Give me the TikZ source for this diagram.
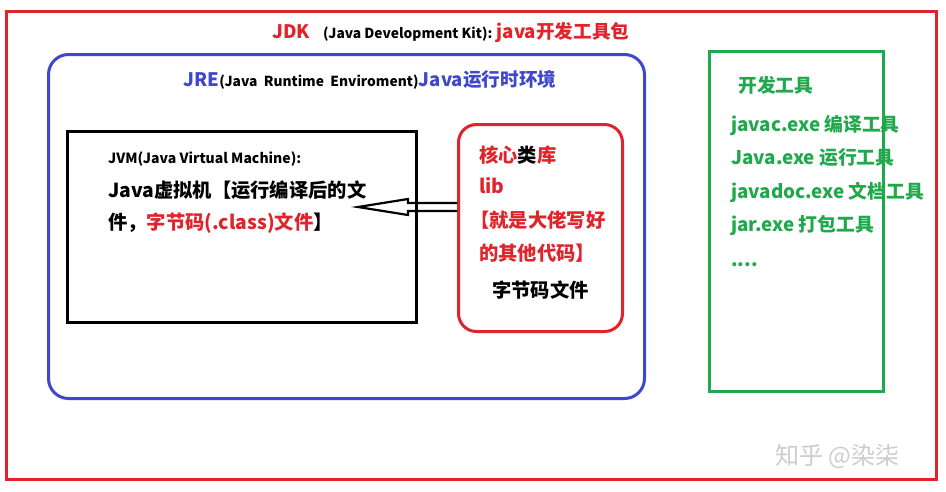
\documentclass[tikz,border=0pt]{standalone}
\usepackage{fontspec}
\setmainfont{Noto Sans CJK SC}
\begin{document}
\definecolor{jred}{RGB}{224,36,44}
\definecolor{jblue}{RGB}{63,72,204}
\definecolor{jgreen}{RGB}{34,168,76}
\definecolor{wm}{RGB}{205,205,205}
\begin{tikzpicture}[x=1pt,y=-1pt,
  txt/.style={anchor=base west,inner sep=0pt,font=\bfseries},
  big/.style={txt,font=\fontsize{19.3}{19.3}\selectfont\bfseries},
  small/.style={txt,font=\fontsize{14}{14}\selectfont\bfseries},
  ttl/.style={txt,font=\fontsize{18.6}{18.6}\selectfont\bfseries},
  gtxt/.style={txt,text=jgreen,font=\fontsize{18.8}{18.8}\selectfont\bfseries},
  frame/.style={line width=3pt}]
\useasboundingbox (0,0) rectangle (946,491);
\fill[white] (0,0) rectangle (946,491);
% outer JDK
\node[frame,draw=jred,minimum width=930pt,minimum height=468pt,anchor=north west,inner sep=0pt] (jdk) at (5,10) {};
% JRE
\node[frame,draw=jblue,rounded corners=20pt,minimum width=596pt,minimum height=344pt,anchor=north west,inner sep=0pt] (jre) at (47,53) {};
% JVM
\node[frame,draw=black,minimum width=349pt,minimum height=191pt,anchor=north west,inner sep=0pt] (jvm) at (66,130) {};
% lib
\node[frame,draw=jred,rounded corners=18pt,minimum width=164pt,minimum height=207pt,anchor=north west,inner sep=0pt] (lib) at (457,123) {};
% tools
\node[frame,draw=jgreen,minimum width=174pt,minimum height=340pt,anchor=north west,inner sep=0pt] (tools) at (708,50) {};
% arrow
\coordinate (ar) at (lib.west |- 0,207);
\draw[line width=2.2pt,line join=miter]
  (ar) ++(0,-4) -- ++(-49,0) -- ++(0,-4) -- (358,207) -- (408,215) -- ++(0,-4) -- ++(49,0);
% JDK title
\node[ttl,text=jred] (t1) at (272,38) {JDK};
\node[small,font=\fontsize{13.8}{13.8}\selectfont\bfseries] (t2) at (323,38) {(Java Development Kit):};
\node[ttl,text=jred] (t3) at (t2.base east) {\hspace{4pt}java开发工具包};
% JRE title
\node[ttl,text=jblue] (r1) at (183,86) {JRE};
\node[small,font=\fontsize{13.8}{13.8}\selectfont\bfseries] (r2) at (r1.base east) {(Java\ \ Runtime\ \ Enviroment)};
\node[ttl,text=jblue] (r3) at (r2.base east) {Java运行时环境};
% JVM text
\node[small] (v1) at (108,163) {JVM(Java Virtual Machine):};
\node[big] (v2) at (108,197) {Java虚拟机【运行编译后的文};
\node[big] (v3) at (108,229) {件，\textcolor{jred}{字节码(.class)文件}】};
% lib text
\node[big] (l1) at (479,162) {\textcolor{jred}{核心}类\textcolor{jred}{库}};
\node[big,text=jred] (l2) at (479,193) {lib};
\node[big,text=jred] (l3) at (470,227) {【就是大佬写好};
\node[big,text=jred] (l4) at (479,260) {的其他代码】};
\node[big] (l5) at (492,297) {字节码文件};
% tools text
\node[gtxt] (g0) at (738,92) {开发工具};
\node[gtxt] (g1) at (731,131) {javac.exe 编译工具};
\node[gtxt] (g2) at (731,164) {Java.exe 运行工具};
\node[gtxt] (g3) at (731,198) {javadoc.exe 文档工具};
\node[gtxt] (g4) at (731,231) {jar.exe 打包工具};
\node[gtxt] (g5) at (731,266) {....};
% watermark
\node[txt,text=wm,font=\fontsize{24}{24}\selectfont] (w) at (775,464) {知乎 @染柒};
\end{tikzpicture}
\end{document}
